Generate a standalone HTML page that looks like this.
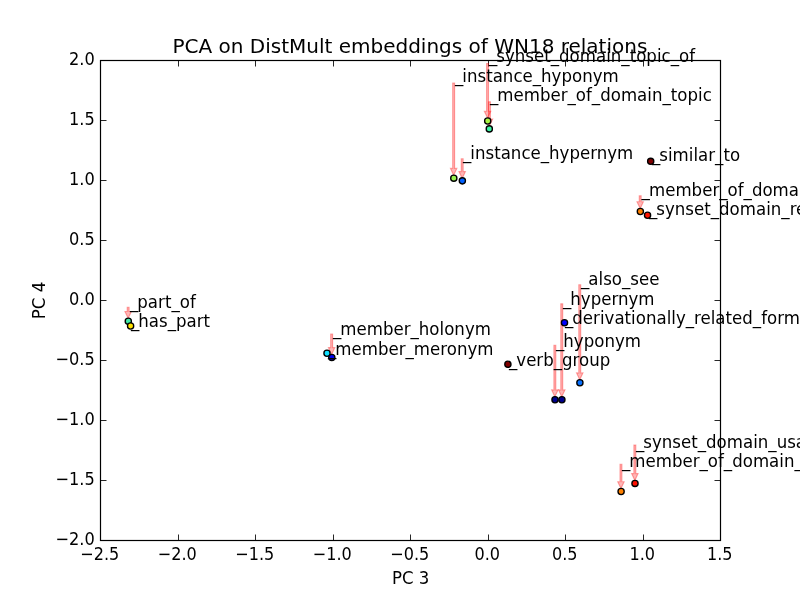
<!DOCTYPE html>
<html><head><meta charset="utf-8"><title>PCA on DistMult embeddings of WN18 relations</title>
<style>
html,body{margin:0;padding:0;background:#fff;}
body{width:800px;height:600px;overflow:hidden;}
svg{display:block;}
text{font-family:"DejaVu Sans","Bitstream Vera Sans","Liberation Sans",sans-serif;fill:#000;}
.t{font-size:16.667px;}
.title{font-size:20px;}
</style></head><body>
<svg width="800" height="600" viewBox="0 0 800 600">
<rect x="0" y="0" width="800" height="600" fill="#ffffff"/>

<g id="axes">
<path d="M100.5 540.5v-6M100.5 60.5v6M178.5 540.5v-6M178.5 60.5v6M255.5 540.5v-6M255.5 60.5v6M333.5 540.5v-6M333.5 60.5v6M410.5 540.5v-6M410.5 60.5v6M488.5 540.5v-6M488.5 60.5v6M565.5 540.5v-6M565.5 60.5v6M643.5 540.5v-6M643.5 60.5v6M720.5 540.5v-6M720.5 60.5v6M100.5 540.5h6M720.5 540.5h-6M100.5 480.5h6M720.5 480.5h-6M100.5 420.5h6M720.5 420.5h-6M100.5 360.5h6M720.5 360.5h-6M100.5 300.5h6M720.5 300.5h-6M100.5 240.5h6M720.5 240.5h-6M100.5 180.5h6M720.5 180.5h-6M100.5 120.5h6M720.5 120.5h-6M100.5 60.5h6M720.5 60.5h-6" stroke="#000" stroke-width="0.85" fill="none"/>
</g>
<g id="arrows" fill="#ff0000" fill-opacity="0.28" stroke="#ff0000" stroke-opacity="0.34" stroke-width="1.15" stroke-linejoin="miter">
<path d="M486.62 63.5L486.62 111.2L484.35 111.2L487.55 118L490.75 111.2L488.48 111.2L488.48 63.5Z"/>
<path d="M488.52 101.8L488.52 119.1L486.25 119.1L489.45 125.9L492.65 119.1L490.38 119.1L490.38 101.8Z"/>
<path d="M452.72 83L452.72 168.4L450.45 168.4L453.65 175.2L456.85 168.4L454.58 168.4L454.58 83Z"/>
<path d="M461.27 158.7L461.27 171.55L459 171.55L462.2 178.35L465.4 171.55L463.13 171.55L463.13 158.7Z"/>
<path d="M639.27 195.8L639.27 201.7L637 201.7L640.2 208.5L643.4 201.7L641.13 201.7L641.13 195.8Z"/>
<path d="M127.22 307.2L127.22 311.45L124.95 311.45L128.15 318.25L131.35 311.45L129.08 311.45L129.08 307.2Z"/>
<path d="M330.72 334L330.72 347.6L328.45 347.6L331.65 354.4L334.85 347.6L332.58 347.6L332.58 334Z"/>
<path d="M578.82 284.7L578.82 372.9L576.55 372.9L579.75 379.7L582.95 372.9L580.68 372.9L580.68 284.7Z"/>
<path d="M560.82 303.8L560.82 389.9L558.55 389.9L561.75 396.7L564.95 389.9L562.68 389.9L562.68 303.8Z"/>
<path d="M553.92 345.2L553.92 389.9L551.65 389.9L554.85 396.7L558.05 389.9L555.78 389.9L555.78 345.2Z"/>
<path d="M633.92 445.1L633.92 473.6L631.65 473.6L634.85 480.4L638.05 473.6L635.78 473.6L635.78 445.1Z"/>
<path d="M620.02 464.4L620.02 481.7L617.75 481.7L620.95 488.5L624.15 481.7L621.88 481.7L621.88 464.4Z"/>
</g>
<g id="markers" stroke="#000" stroke-width="1.35">
<circle cx="487.7" cy="121.0" r="3.1" fill="#a8f544"/>
<circle cx="489.3" cy="128.9" r="3.1" fill="#3cf5a4"/>
<circle cx="453.8" cy="178.2" r="3.1" fill="#98f250"/>
<circle cx="462.35" cy="180.85" r="3.1" fill="#0060ff"/>
<circle cx="650.7" cy="161.3" r="3.1" fill="#800000"/>
<circle cx="640.35" cy="211.5" r="3.1" fill="#ff8000"/>
<circle cx="647.55" cy="215.25" r="3.1" fill="#ff1400"/>
<circle cx="128.3" cy="321.25" r="3.1" fill="#40eca8"/>
<circle cx="130.6" cy="326" r="3.1" fill="#ffe200"/>
<circle cx="331.8" cy="357.4" r="3.1" fill="#0000f0"/>
<circle cx="327.0" cy="353.2" r="3.1" fill="#10e0ff"/>
<circle cx="507.9" cy="364.3" r="3.1" fill="#800000"/>
<circle cx="579.9" cy="382.7" r="3.1" fill="#0870ff"/>
<circle cx="561.9" cy="399.7" r="3.1" fill="#00008c"/>
<circle cx="564.5" cy="322.8" r="3.1" fill="#0000ff"/>
<circle cx="555.0" cy="399.7" r="3.1" fill="#00008c"/>
<circle cx="635" cy="483.4" r="3.1" fill="#ff1000"/>
<circle cx="621.1" cy="491.5" r="3.1" fill="#ff8000"/>
</g>
<rect x="100.5" y="60.5" width="620" height="480" fill="none" stroke="#000" stroke-width="1.2"/>
<g id="labels" class="t">
<text transform="translate(488.00,62.00) scale(0.9975,1.075)" dx="0.9 -0.9 0 0 0 0 0 0 0 0 0 0 0 0 0 0 0 0 0 0 0 0 0">_synset_domain_topic_of</text>
<text transform="translate(489.00,101.00) scale(0.9975,1.075)" dx="0.9 -0.9 0 0 0 0 0 0 0 0 0 0 0 0 0 0 0 0 0 0 0 0 0">_member_of_domain_topic</text>
<text transform="translate(454.00,82.00) scale(0.9975,1.075)" dx="0.9 -0.9 0 0 0 0 0 0 0 0 0 0 0 0 0 0 0">_instance_hyponym</text>
<text transform="translate(462.00,159.00) scale(0.9975,1.075)" dx="0.9 -0.9 0 0 0 0 0 0 0 0 0 0 0 0 0 0 0 0">_instance_hypernym</text>
<text transform="translate(651.00,161.00) scale(0.9975,1.075)" dx="0.9 -0.9 0 0 0 0 0 0 0 0 0">_similar_to</text>
<text transform="translate(640.70,196.00) scale(0.9975,1.075)" dx="0.9 -0.9 0 0 0 0 0 0 0 0 0 0 0 0 0 0 0 0 0 0 0 0 0 0">_member_of_domain_region</text>
<text transform="translate(648.00,215.00) scale(0.9975,1.075)" dx="0.9 -0.9 0 0 0 0 0 0 0 0 0 0 0 0 0 0 0 0 0 0 0 0 0 0">_synset_domain_region_of</text>
<text transform="translate(129.00,308.00) scale(0.9975,1.075)" dx="0.9 -0.9 0 0 0 0 0 0">_part_of</text>
<text transform="translate(130.00,327.00) scale(0.9975,1.075)" dx="0.9 -0.9 0 0 0 0 0 0 0">_has_part</text>
<text transform="translate(332.00,335.00) scale(0.9975,1.075)" dx="0.9 -0.9 0 0 0 0 0 0 0 0 0 0 0 0 0">_member_holonym</text>
<text transform="translate(327.00,355.00) scale(0.9975,1.075)" dx="0.9 -0.9 0 0 0 0 0 0 0 0 0 0 0 0 0">_member_meronym</text>
<text transform="translate(508.00,366.00) scale(0.9975,1.075)" dx="0.9 -0.9 0 0 0 0 0 0 0 0 0">_verb_group</text>
<text transform="translate(580.00,285.00) scale(0.9975,1.075)" dx="0.9 -0.9 0 0 0 0 0 0 0">_also_see</text>
<text transform="translate(562.00,305.00) scale(0.9975,1.075)" dx="0.9 -0.9 0 0 0 0 0 0 0">_hypernym</text>
<text transform="translate(564.00,324.00) scale(0.9975,1.075)" dx="0.9 -0.9 0 0 0 0 0 0 0 0 0 0 0 0 0 0 0 0 0 0 0 0 0 0 0 0 0 0">_derivationally_related_form</text>
<text transform="translate(555.00,347.00) scale(0.9975,1.075)" dx="0.9 -0.9 0 0 0 0 0 0">_hyponym</text>
<text transform="translate(635.00,448.00) scale(0.9975,1.075)" dx="0.9 -0.9 0 0 0 0 0 0 0 0 0 0 0 0 0 0 0 0 0 0 0 0 0">_synset_domain_usage_of</text>
<text transform="translate(621.00,467.00) scale(0.9975,1.075)" dx="0.9 -0.9 0 0 0 0 0 0 0 0 0 0 0 0 0 0 0 0 0 0 0 0 0">_member_of_domain_usage</text>
</g>
<g id="ticklabels" class="t">
<text transform="translate(99.70,560.00) scale(0.965,1.075)" text-anchor="middle">−2.5</text>
<text transform="translate(177.20,560.00) scale(0.965,1.075)" text-anchor="middle">−2.0</text>
<text transform="translate(254.70,560.00) scale(0.965,1.075)" text-anchor="middle">−1.5</text>
<text transform="translate(332.20,560.00) scale(0.965,1.075)" text-anchor="middle">−1.0</text>
<text transform="translate(409.70,560.00) scale(0.965,1.075)" text-anchor="middle">−0.5</text>
<text transform="translate(487.20,560.00) scale(0.965,1.075)" text-anchor="middle">0.0</text>
<text transform="translate(564.70,560.00) scale(0.965,1.075)" text-anchor="middle">0.5</text>
<text transform="translate(642.20,560.00) scale(0.965,1.075)" text-anchor="middle">1.0</text>
<text transform="translate(719.70,560.00) scale(0.965,1.075)" text-anchor="middle">1.5</text>
<text transform="translate(94.80,545.00) scale(0.972,1.075)" text-anchor="end">−2.0</text>
<text transform="translate(94.80,485.00) scale(0.972,1.075)" text-anchor="end">−1.5</text>
<text transform="translate(94.80,425.00) scale(0.972,1.075)" text-anchor="end">−1.0</text>
<text transform="translate(94.80,365.00) scale(0.972,1.075)" text-anchor="end">−0.5</text>
<text transform="translate(94.80,305.00) scale(0.972,1.075)" text-anchor="end">0.0</text>
<text transform="translate(94.80,245.00) scale(0.972,1.075)" text-anchor="end">0.5</text>
<text transform="translate(94.80,185.00) scale(0.972,1.075)" text-anchor="end">1.0</text>
<text transform="translate(94.80,125.00) scale(0.972,1.075)" text-anchor="end">1.5</text>
<text transform="translate(94.80,65.00) scale(0.972,1.075)" text-anchor="end">2.0</text>
</g>
<text class="title" x="409.9" y="52.8" text-anchor="middle">PCA on DistMult embeddings of WN18 relations</text>
<text transform="translate(410.70,584.00) scale(1.035,1.075)" text-anchor="middle">PC 3</text>
<text class="t" transform="translate(45,300.5) rotate(-90) scale(1,1.075)" text-anchor="middle">PC 4</text>
</svg></body></html>
